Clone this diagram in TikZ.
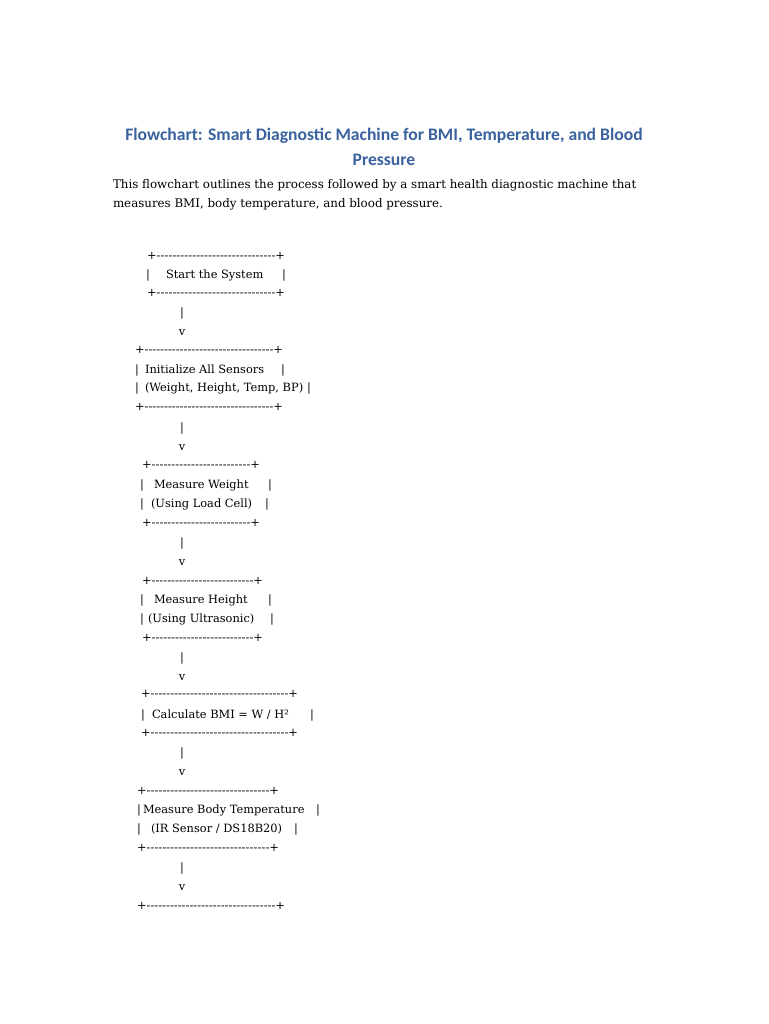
\documentclass[tikz,border=0pt]{standalone}
\usepackage{fontspec}
\setmainfont{DejaVu Serif}
\newfontfamily\headfont{Carlito}
\usetikzlibrary{positioning}
\definecolor{headblue}{RGB}{58,98,158}

% a "+-----+" row of the given width
\newcommand{\boxline}[1]{\makebox[#1pt]{+\xleaders\hbox{-}\hfill+}}

\begin{document}
\begin{tikzpicture}[x=1pt,y=-1pt,
    every node/.style={inner sep=0pt,outer sep=0pt},
    body/.style={anchor=base west,font=\fontsize{11.85}{19.5}\selectfont},
    ascii/.style={anchor=base west,font=\fontsize{11.4}{14}\selectfont},
    bar/.style={anchor=base,font=\fontsize{11.4}{14}\selectfont},
    title/.style={anchor=base,text=headblue,font=\headfont\bfseries\fontsize{17.6}{20}\selectfont}]
  \useasboundingbox (0,0) rectangle (768,1024);

  \node[title] (title1) at (384,141) {Flowchart: Smart Diagnostic Machine for BMI, Temperature, and Blood};
  \node[title] (title2) at (384,166) {Pressure};
  \node[body] (intro1) at (113,189) {This flowchart outlines the process followed by a smart health diagnostic machine that};
  \node[body] (intro2) at (113,208) {measures BMI, body temperature, and blood pressure.};

  % start
  \node[ascii] (startT) at (147,259) {\boxline{138}};
  \node[bar] (startL) at (148,278) {|};
  \node[ascii] (start) at (166,278) {Start the System};
  \node[bar] (startR) at (284,278) {|};
  \node[ascii] (startB) at (147,296) {\boxline{138}};

  % sensors
  \node[ascii] (initT) at (135,353) {\boxline{148}};
  \node[bar] (initL1) at (137,373) {|};
  \node[ascii] (init1) at (145,373) {Initialize All Sensors};
  \node[bar] (initR1) at (283,373) {|};
  \node[bar] (initL2) at (137,391) {|};
  \node[ascii] (init2) at (145,391) {(Weight, Height, Temp, BP)};
  \node[bar] (initR2) at (309,391) {|};
  \node[ascii] (initB) at (135,410) {\boxline{148}};

  % weight
  \node[ascii] (wT) at (142,468) {\boxline{118}};
  \node[bar] (wL1) at (142,488) {|};
  \node[ascii] (w1) at (154,488) {Measure Weight};
  \node[bar] (wR1) at (270,488) {|};
  \node[bar] (wL2) at (142,507) {|};
  \node[ascii] (w2) at (151,507) {(Using Load Cell)};
  \node[bar] (wR2) at (267,507) {|};
  \node[ascii] (wB) at (142,526) {\boxline{118}};

  % height
  \node[ascii] (hT) at (142,584) {\boxline{121}};
  \node[bar] (hL1) at (142,603) {|};
  \node[ascii] (h1) at (154,603) {Measure Height};
  \node[bar] (hR1) at (270,603) {|};
  \node[bar] (hL2) at (142,622) {|};
  \node[ascii] (h2) at (148,622) {(Using Ultrasonic)};
  \node[bar] (hR2) at (272,622) {|};
  \node[ascii] (hB) at (142,641) {\boxline{121}};

  % bmi
  \node[ascii] (bmiT) at (141,697) {\boxline{157}};
  \node[bar] (bmiL) at (143,718) {|};
  \node[ascii] (bmi) at (152,718) {Calculate BMI = W / H²};
  \node[bar] (bmiR) at (312,718) {|};
  \node[ascii] (bmiB) at (141,736) {\boxline{157}};

  % temperature
  \node[ascii] (tT) at (137,794) {\boxline{142}};
  \node[bar] (tL1) at (139,813) {|};
  \node[ascii] (t1) at (143,813) {Measure Body Temperature};
  \node[bar] (tR1) at (318,813) {|};
  \node[bar] (tL2) at (139,832) {|};
  \node[ascii] (t2) at (151,832) {(IR Sensor / DS18B20)};
  \node[bar] (tR2) at (296,832) {|};
  \node[ascii] (tB) at (137,851) {\boxline{142}};

  % next box, cut at page end
  \node[ascii] (nT) at (137,909) {\boxline{148}};

  % the "|" and "v" between the boxes
  \foreach \yy [count=\i] in {311,426,541,656,751,866} {
    \node[bar] (pipe\i) at (182,\yy+5) {|};
    \node[bar] (tip\i) at (182,\yy+24) {v};
  }
\end{tikzpicture}
\end{document}
